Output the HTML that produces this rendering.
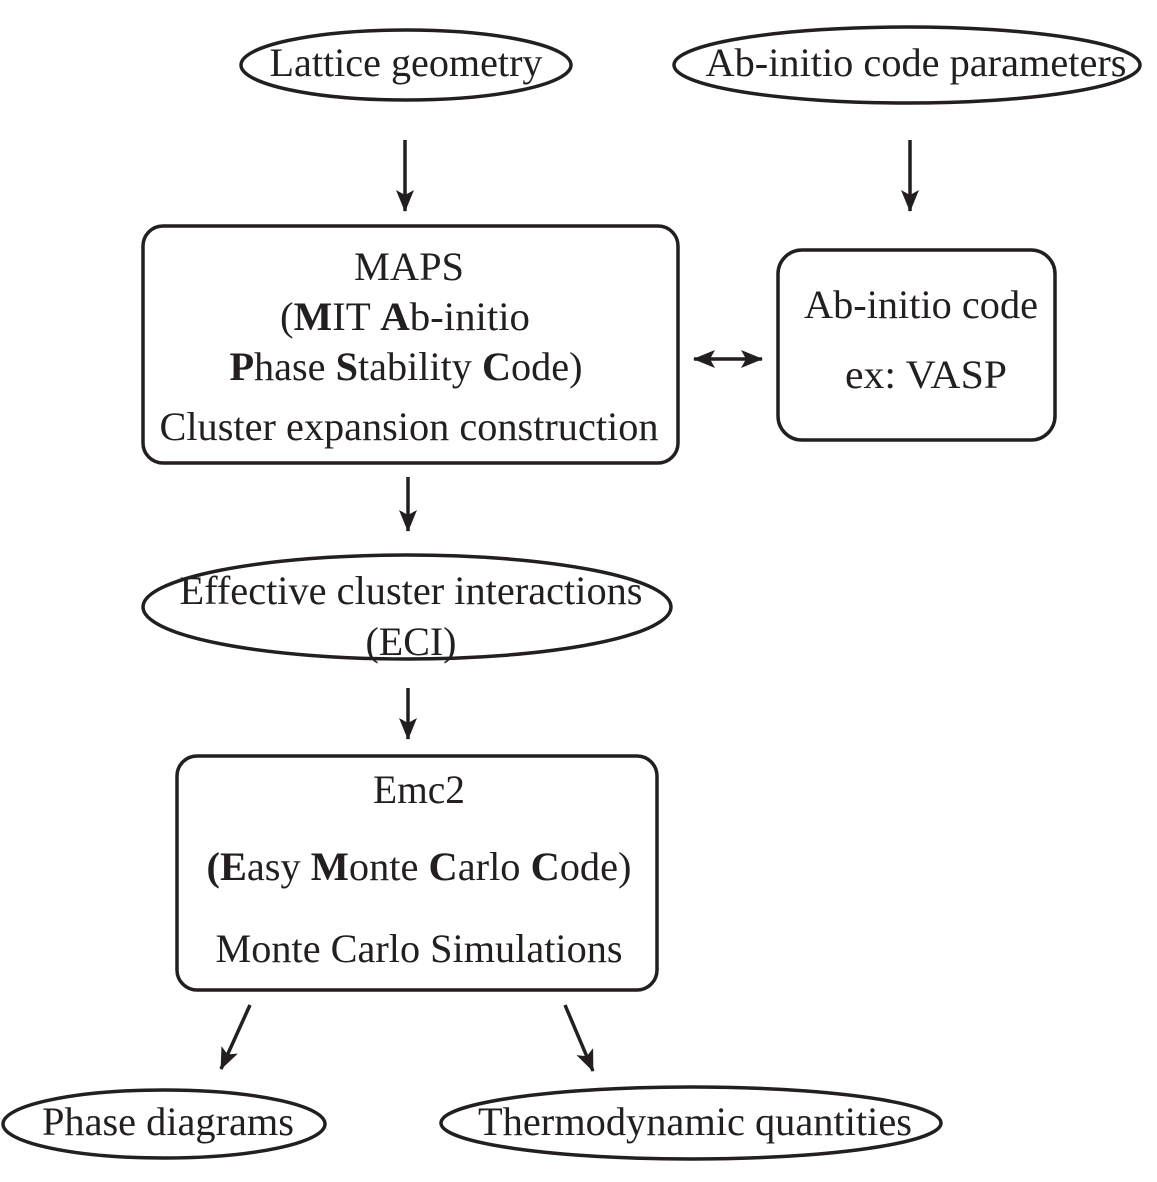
<!DOCTYPE html>
<html><head><meta charset="utf-8"><style>
html,body{margin:0;padding:0;background:#fff;}
svg text{font-family:"Liberation Serif",serif;font-size:40px;fill:#231f20;text-anchor:middle;}
</style></head><body>
<svg width="1157" height="1177" viewBox="0 0 1157 1177" xmlns="http://www.w3.org/2000/svg">
<defs>
<marker id="h" viewBox="0 0 22 18" markerWidth="22" markerHeight="18" refX="21" refY="9" orient="auto-start-reverse" markerUnits="userSpaceOnUse"><path d="M0,0 L22,9 L0,18 L5,9 z" fill="#231f20"/></marker></defs>
<g fill="none" stroke="#231f20" stroke-width="3.5">
<ellipse cx="406" cy="65" rx="165" ry="35"/>
<ellipse cx="907" cy="65" rx="233" ry="38"/>
<rect x="143" y="226" width="535" height="237" rx="20"/>
<rect x="778" y="250" width="277" height="190" rx="24"/>
<ellipse cx="407" cy="607" rx="264" ry="52"/>
<rect x="177" y="756" width="480" height="234" rx="20"/>
<ellipse cx="164" cy="1124" rx="161" ry="34"/>
<ellipse cx="691" cy="1123" rx="250" ry="36"/>
</g>
<g stroke="#231f20" stroke-width="3.5">
<line x1="405" y1="140" x2="405" y2="211" marker-end="url(#h)"/>
<line x1="910" y1="140" x2="910" y2="211" marker-end="url(#h)"/>
<line x1="694" y1="359" x2="762" y2="359" marker-start="url(#h)" marker-end="url(#h)"/>
<line x1="408" y1="477" x2="408" y2="531" marker-end="url(#h)"/>
<line x1="408" y1="688" x2="408" y2="739" marker-end="url(#h)"/>
<line x1="250" y1="1005" x2="221" y2="1069" marker-end="url(#h)"/>
<line x1="565" y1="1005" x2="593" y2="1071" marker-end="url(#h)"/>
</g>
<text x="406" y="76" textLength="273" lengthAdjust="spacingAndGlyphs">Lattice geometry</text>
<text x="916" y="76" textLength="421" lengthAdjust="spacingAndGlyphs">Ab-initio code parameters</text>
<text x="409" y="280" textLength="110" lengthAdjust="spacingAndGlyphs">MAPS</text>
<text x="405" y="330" textLength="250" lengthAdjust="spacingAndGlyphs">(<tspan font-weight="bold">M</tspan>IT <tspan font-weight="bold">A</tspan>b-initio</text>
<text x="406" y="380" textLength="353" lengthAdjust="spacingAndGlyphs"><tspan font-weight="bold">P</tspan>hase <tspan font-weight="bold">S</tspan>tability <tspan font-weight="bold">C</tspan>ode)</text>
<text x="409" y="440" textLength="499" lengthAdjust="spacingAndGlyphs">Cluster expansion construction</text>
<text x="921" y="318" textLength="234" lengthAdjust="spacingAndGlyphs">Ab-initio code</text>
<text x="926" y="388" textLength="162" lengthAdjust="spacingAndGlyphs">ex: VASP</text>
<text x="411" y="604" textLength="463" lengthAdjust="spacingAndGlyphs">Effective cluster interactions</text>
<text x="411" y="655" textLength="91" lengthAdjust="spacingAndGlyphs">(ECI)</text>
<text x="419" y="803" textLength="92" lengthAdjust="spacingAndGlyphs">Emc2</text>
<text x="419" y="880" textLength="425" lengthAdjust="spacingAndGlyphs"><tspan font-weight="bold">(E</tspan>asy <tspan font-weight="bold">M</tspan>onte <tspan font-weight="bold">C</tspan>arlo <tspan font-weight="bold">C</tspan>ode)</text>
<text x="419" y="962" textLength="407" lengthAdjust="spacingAndGlyphs">Monte Carlo Simulations</text>
<text x="168" y="1135" textLength="252" lengthAdjust="spacingAndGlyphs">Phase diagrams</text>
<text x="695" y="1135" textLength="434" lengthAdjust="spacingAndGlyphs">Thermodynamic quantities</text>
</svg>
</body></html>
